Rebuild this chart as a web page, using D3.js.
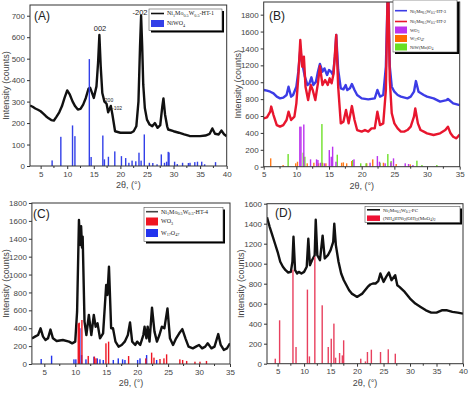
<!DOCTYPE html>
<html>
<head>
<meta charset="utf-8">
<script src="https://cdn.jsdelivr.net/npm/d3@7"></script>
<style>
  body { margin: 0; background: #fff; }
  svg { display: block; }
</style>
</head>
<body>
<svg id="chart" width="474" height="395"></svg>
<script>
// ---- data (2theta, counts) ----
// panel A
const ht1 = [[3,282],[3.5,276],[4,268],[4.5,262],[5,255],[5.5,244],[6,232],[6.5,222],[7,214],[7.5,212],[8,230],[8.5,250],[9,278],[9.5,317],[10,352],[10.5,332],[11,301],[11.5,278],[12,263],[12.5,266],[13,286],[13.5,317],[14,360],[14.3,365],[14.6,345],[15,317],[15.5,371],[15.8,480],[16.05,610],[16.3,464],[16.6,340],[17,300],[17.4,290],[17.7,250],[18.2,280],[18.5,240],[19,162],[20,155],[21,155],[22,155],[22.5,162],[23,185],[23.4,300],[23.7,560],[23.9,700],[24.1,560],[24.3,380],[24.6,270],[25,216],[25.5,193],[26,185],[26.5,200],[27,178],[27.5,190],[27.9,280],[28.1,315],[28.4,240],[28.8,185],[29,170],[30,162],[31,155],[32,147],[33,140],[34,139],[35,139],[36,142],[36.8,150],[37.3,175],[37.8,150],[38.5,147],[39,165],[39.5,148],[40,139]];
const niwo4Theta = [7.16,8.8,11.0,11.45,14.16,14.5,16.7,17.0,17.75,18.95,20.2,21.0,21.6,22.2,22.9,23.5,23.9,24.5,25.45,26.1,26.9,27.7,28.3,28.7,29.0,29.15,30.2,30.7,31.7,32.8,33.1,34.0,34.5,35.3,35.85,37.9];
const niwo4Counts = [26,136,189,139,498,42,142,31,43,68,46,37,15,25,22,62,25,147,15,14,8,54,15,20,66,63,20,9,15,14,15,18,20,20,8,18];

// panel B
const ht3 = [[5,908],[5.5,900],[6,888],[6.5,868],[7,829],[7.5,809],[8,817],[8.5,849],[8.8,947],[9.2,829],[9.5,849],[10,947],[10.3,1125],[10.6,1382],[11,1184],[11.3,1066],[11.7,967],[12,987],[12.3,1058],[12.6,967],[13,1007],[13.3,1125],[13.6,1216],[14,1125],[14.3,1164],[14.7,1086],[15,1145],[15.3,1125],[15.6,1086],[15.9,1300],[16.1,1559],[16.4,1145],[16.8,928],[17.2,916],[17.55,967],[17.8,908],[18.2,928],[18.5,979],[18.9,908],[19.3,849],[20,809],[21,797],[22,809],[22.4,908],[22.8,829],[23.3,849],[23.7,1184],[23.95,1960],[24.1,1960],[24.3,1184],[24.6,947],[25,888],[25.5,849],[26,829],[27,809],[27.5,829],[28,888],[28.3,1014],[28.7,888],[29.5,849],[30,829],[31,809],[32,770],[33,789],[33.2,801],[34,750],[35,730]];
const ht2 = [[5,572],[5.5,584],[6,651],[6.15,712],[6.5,612],[7,493],[7.5,474],[8,493],[8.5,553],[8.8,651],[9.2,553],[9.7,592],[10,750],[10.3,1066],[10.6,1500],[10.9,1184],[11.15,1303],[11.4,947],[11.8,789],[12.2,967],[12.5,908],[12.9,789],[13.3,987],[13.6,1192],[14,967],[14.4,1026],[14.8,967],[15.1,1046],[15.4,987],[15.7,1105],[16.1,1559],[16.4,947],[16.8,513],[17.2,533],[17.6,671],[18,513],[18.5,718],[18.9,553],[19.3,434],[20,415],[20.5,434],[21,415],[21.5,454],[22,454],[22.4,651],[22.8,493],[23.3,513],[23.7,908],[23.95,1960],[24.1,1960],[24.3,1026],[24.6,632],[25,513],[25.5,454],[26,415],[26.5,415],[27,434],[27.5,474],[28,592],[28.2,691],[28.6,513],[29,434],[29.5,415],[30,395],[31,375],[32,395],[32.8,434],[33.2,474],[33.6,395],[34,355],[34.5,336],[35,380]];
const wo3bTheta = [10.53,10.7,11.14,12.17,13.09,13.3,13.7,14.3,15.04,15.34,15.55,16.06,18.82,21.28,22.4,22.72,23.59,24.46,24.87,26.66,27.17,27.84];
const wo3bCounts = [474,474,500,87,87,79,47,40,197,118,237,59,87,47,126,59,40,51,99,40,32,20];
const w17bTheta = [6.07,7.97,9.9,10.17,11.66,12.68,13.4,14.01,14.52,16.93,17.19,17.7,18.47,20.77,21.69,23.33,25.28,27.43];
const w17bCounts = [99,20,40,59,40,47,40,47,40,47,51,40,67,40,87,47,32,28];
const niwmoTheta = [8.74,11.04,11.3,13.91,16.26,18.62,19.85,20.67,22.82,24.0,24.5,28.45,29.22,31.5];
const niwmoCounts = [150,166,118,505,142,79,40,40,47,150,67,71,20,20];

// panel C
const ht4 = [[3,287],[3.5,306],[4,324],[4.4,399],[4.8,306],[5.2,268],[5.6,287],[6,385],[6.4,287],[7,257],[8,268],[9,250],[9.5,231],[10,250],[10.3,585],[10.6,1610],[10.8,1330],[10.95,1540],[11.1,1300],[11.2,1424],[11.5,473],[11.8,324],[12.2,548],[12.6,324],[13,548],[13.3,417],[13.6,455],[14,287],[14.5,343],[15,883],[15.2,772],[15.45,1088],[15.8,399],[16.1,399],[16.5,250],[17,194],[17.5,213],[18,250],[18.5,324],[18.85,465],[19.2,250],[19.7,213],[20,250],[20.5,213],[21,324],[21.2,417],[21.5,287],[21.7,417],[22,250],[22.4,630],[22.8,362],[23.2,250],[23.6,324],[24,417],[24.4,399],[24.9,622],[25.3,287],[25.8,213],[26.3,287],[26.8,343],[27.3,390],[27.8,287],[28.3,194],[29,175],[29.5,194],[30,213],[30.5,175],[31,194],[31.4,231],[32,175],[32.5,194],[33.1,335],[33.5,213],[34,157],[34.5,175],[35,231]];
const wo3cTheta = [10.49,10.65,11.08,12.1,13.1,13.35,14.96,15.39,18.62,21.4,22.34,22.72,23.69,24.33,24.76,26.9,27.35,28.0,29.34,30.15,31.2];
const wo3cCounts = [455,462,492,90,82,63,231,250,89,63,127,71,56,63,108,52,45,34,26,26,34];
const w17cTheta = [4.5,6.18,9.79,10.1,10.75,11.03,11.73,13.02,13.56,13.99,14.53,16.15,16.95,17.65,18.03,20.08,20.46,21.53,23.15];
const w17cCounts = [56,93,52,52,400,100,52,82,63,52,45,45,63,52,45,45,63,100,45];

// panel D
const pc = [[3,1465],[3.5,1369],[4,1286],[4.5,1202],[5,1119],[5.5,1019],[6,969],[6.5,935],[7,912],[7.5,918],[7.8,1019],[8.0,1270],[8.3,935],[8.7,902],[9,918],[9.5,902],[10,918],[10.5,969],[10.8,1250],[11.1,985],[11.5,1035],[12,1085],[12.2,1440],[12.5,1085],[13,1035],[13.5,1280],[13.9,1052],[14.5,1085],[15,1136],[15.5,1219],[15.7,1400],[16,1186],[16.5,1019],[17,902],[17.5,835],[18,785],[18.5,735],[19,701],[19.5,685],[20,668],[20.5,685],[21,701],[21.5,735],[22,768],[22.5,792],[23,802],[23.5,802],[24,825],[24.4,902],[25,818],[25.5,868],[26,912],[26.5,835],[27.2,885],[27.6,785],[28,768],[29,718],[30,651],[31,601],[32,568],[33,534],[34,511],[35,511],[36,534],[37,534],[38,518],[39,511],[40,501]];
const nhniTheta = [4.56,5.38,7.9,8.48,10.63,11.01,12.03,13.42,14.56,15.13,15.63,15.95,16.7,17.22,17.47,20.7,21.58,21.96,22.7,24.43,25.89,27.22];
const nhniCounts = [50,434,940,167,741,73,1069,584,167,250,401,60,107,83,234,50,23,117,140,117,144,100];

// ---- drawing ----
const svg = d3.select('#chart');
const fontSans = 'Liberation Sans, Arial, sans-serif';
const fontSerif = 'Liberation Serif, Times New Roman, serif';

// "Ni_{1}Mo_{0.5}" -> text with subscripts
function richText(sel, str, size) {
  const parts = str.split(/(_\{[^}]*\})/).filter(p => p);
  let down = false;
  parts.forEach(p => {
    const sub = p.startsWith('_{');
    const t = sel.append('tspan').attr('font-size', sub ? size * 0.7 : size);
    if (sub && !down) { t.attr('dy', size * 0.25); down = true; }
    else if (!sub && down) { t.attr('dy', -size * 0.25); down = false; }
    t.text(sub ? p.slice(2, -1) : p);
  });
}

function drawPanel(p) {
  const g = svg.append('g');
  const x = d3.scaleLinear().domain(p.xDomain).range([p.left, p.right]);
  const y = d3.scaleLinear().domain(p.yDomain).range([p.bottom, p.top]);

  const clipId = 'clip' + p.label;
  svg.append('clipPath').attr('id', clipId)
    .append('rect').attr('x', p.left).attr('y', p.top)
    .attr('width', p.right - p.left).attr('height', p.bottom - p.top);

  const plot = g.append('g').attr('clip-path', `url(#${clipId})`);
  const line = d3.line().x(d => x(d[0])).y(d => y(d[1]));

  p.curves.forEach(c => {
    plot.append('path').datum(c.data)
      .attr('fill', 'none').attr('stroke', c.color)
      .attr('stroke-width', 2.4).attr('stroke-linejoin', 'round')
      .attr('d', line);
  });

  p.bars.forEach(b => {
    plot.append('g').selectAll('rect')
      .data(b.theta)
      .enter().append('rect')
      .attr('x', d => x(d) - 0.7)
      .attr('width', 1.4)
      .attr('y', (d, i) => y(b.counts[i]))
      .attr('height', (d, i) => y(0) - y(b.counts[i]))
      .attr('fill', b.color);
  });

  // frame
  g.append('rect').attr('x', p.left).attr('y', p.top)
    .attr('width', p.right - p.left).attr('height', p.bottom - p.top)
    .attr('fill', 'none').attr('stroke', '#333').attr('stroke-width', 1);

  // axes
  const xAxis = d3.axisBottom(x).tickValues(p.xTicks).tickSize(3).tickPadding(2).tickFormat(d3.format('d'));
  const xa = g.append('g').attr('transform', `translate(0,${p.bottom})`).call(xAxis);
  const yAxis = d3.axisLeft(y).tickValues(p.yTicks).tickSize(3).tickPadding(2).tickFormat(d3.format('d'));
  const ya = g.append('g').attr('transform', `translate(${p.left},0)`).call(yAxis);
  [xa, ya].forEach(a => {
    a.select('.domain').remove();
    a.selectAll('line').attr('stroke', '#333');
    a.selectAll('text').attr('font-family', fontSans).attr('font-size', 8).attr('fill', '#444');
  });
  // minor ticks on x
  const minor = d3.range(p.xTicks[0] - 2.5, p.xDomain[1], 5).filter(v => v > p.xDomain[0] && v < p.xDomain[1]);
  g.append('g').selectAll('line').data(minor).enter().append('line')
    .attr('x1', d => x(d)).attr('x2', d => x(d))
    .attr('y1', p.bottom).attr('y2', p.bottom + 2).attr('stroke', '#333');

  // titles
  g.append('text').attr('x', (p.left + p.right) / 2).attr('y', p.bottom + 22)
    .attr('text-anchor', 'middle').attr('font-family', fontSans).attr('font-size', 9).attr('fill', '#444')
    .text('2\u03b8, (\u00b0)');
  g.append('text')
    .attr('transform', `translate(${p.yTitleX},${(p.top + p.bottom) / 2}) rotate(-90)`)
    .attr('text-anchor', 'middle').attr('font-family', fontSans).attr('font-size', 9).attr('fill', '#444')
    .text('Intensity (counts)');
  g.append('text').attr('x', p.labelPos[0]).attr('y', p.labelPos[1])
    .attr('font-family', fontSans).attr('font-size', 12).attr('fill', '#222')
    .text('(' + p.label + ')');

  // legend
  const L = p.legend;
  g.append('rect').attr('x', L.x + 2).attr('y', L.y + 2).attr('width', L.w).attr('height', L.h).attr('fill', '#000');
  g.append('rect').attr('x', L.x).attr('y', L.y).attr('width', L.w).attr('height', L.h)
    .attr('fill', '#fff').attr('stroke', '#555').attr('stroke-width', 0.6);
  L.items.forEach(it => {
    if (it.type === 'line') {
      g.append('line').attr('x1', L.x + 2).attr('x2', L.x + L.sw).attr('y1', it.y).attr('y2', it.y)
        .attr('stroke', it.color).attr('stroke-width', 1.6);
    } else {
      g.append('rect').attr('x', L.x + 2).attr('y', it.y - L.rh / 2).attr('width', L.sw - 2).attr('height', L.rh)
        .attr('fill', it.color);
    }
    const t = g.append('text').attr('x', L.x + L.sw + 3).attr('y', it.y + 1.8)
      .attr('font-family', fontSerif).attr('fill', '#222');
    richText(t, it.text, L.fs);
  });

  (p.notes || []).forEach(n => {
    g.append('text').attr('x', n[0]).attr('y', n[1]).attr('text-anchor', 'middle')
      .attr('font-family', fontSans).attr('font-size', n[3]).attr('fill', '#222').text(n[2]);
  });
}

const nmw = 'Ni_{1}Mo_{0.5}W_{0.5}';

drawPanel({
  label: 'A', left: 30, right: 226.7, top: 5, bottom: 166,
  xDomain: [3, 40], yDomain: [0, 750],
  xTicks: [5, 10, 15, 20, 25, 30, 35, 40], yTicks: d3.range(0, 701, 100),
  yTitleX: 9, labelPos: [34, 20],
  curves: [{ data: ht1, color: '#111' }],
  bars: [{ theta: niwo4Theta, counts: niwo4Counts, color: '#3340e8' }],
  legend: { x: 149, y: 9, w: 73, h: 21.5, sw: 15, rh: 7, fs: 6, items: [
    { type: 'line', y: 13.5, color: '#111', text: nmw + '-HT-1' },
    { type: 'rect', y: 23.5, color: '#3340e8', text: 'NiWO_{4}' }] },
  notes: [[100, 31, '002', 7.5], [140, 15, '-202', 7.5], [109, 102, '200', 5], [117, 110, '-102', 5]]
});

drawPanel({
  label: 'B', left: 263.7, right: 459.7, top: 2, bottom: 166.7,
  xDomain: [5, 35], yDomain: [0, 1950],
  xTicks: [5, 10, 15, 20, 25, 30, 35], yTicks: d3.range(0, 1801, 200),
  yTitleX: 241, labelPos: [269, 20],
  curves: [{ data: ht3, color: '#3c3ce6' }, { data: ht2, color: '#e8162e' }],
  bars: [
    { theta: w17bTheta, counts: w17bCounts, color: '#ff7a1a' },
    { theta: niwmoTheta, counts: niwmoCounts, color: '#6fe02a' },
    { theta: wo3bTheta, counts: wo3bCounts, color: '#bb33ee' }],
  legend: { x: 393, y: 0, w: 64, h: 52, sw: 14, rh: 7, fs: 4.6, items: [
    { type: 'line', y: 10.7, color: '#3c3ce6', text: 'Ni_{1}Mo_{0.5}W_{0.5}-HT-3' },
    { type: 'line', y: 21.5, color: '#e8162e', text: 'Ni_{1}Mo_{0.5}W_{0.5}-HT-2' },
    { type: 'rect', y: 30, color: '#bb33ee', text: 'WO_{3}' },
    { type: 'rect', y: 38.5, color: '#ff6a00', text: 'W_{17}O_{47}' },
    { type: 'rect', y: 47, color: '#66e022', text: 'NiW(Mo)O_{4}' }] }
});

drawPanel({
  label: 'C', left: 31.9, right: 230, top: 203, bottom: 364,
  xDomain: [3, 35], yDomain: [0, 1800],
  xTicks: [5, 10, 15, 20, 25, 30, 35], yTicks: d3.range(0, 1801, 200),
  yTitleX: 9, labelPos: [33, 218],
  curves: [{ data: ht4, color: '#111' }],
  bars: [
    { theta: w17cTheta, counts: w17cCounts, color: '#2233ee' },
    { theta: wo3cTheta, counts: wo3cCounts, color: '#ee1522' }],
  legend: { x: 144, y: 207.5, w: 79, h: 34, sw: 14, rh: 8, fs: 6, items: [
    { type: 'line', y: 211.7, color: '#444', text: nmw + '-HT-4' },
    { type: 'rect', y: 221.5, color: '#ee1522', text: 'WO_{3}' },
    { type: 'rect', y: 233, color: '#2233ee', text: 'W_{17}O_{47}' }] }
});

drawPanel({
  label: 'D', left: 267, right: 463, top: 203.7, bottom: 363.7,
  xDomain: [3, 40], yDomain: [0, 1600],
  xTicks: [5, 10, 15, 20, 25, 30, 35, 40], yTicks: d3.range(0, 1601, 200),
  yTitleX: 244, labelPos: [275, 217],
  curves: [{ data: pc, color: '#111' }],
  bars: [{ theta: nhniTheta, counts: nhniCounts, color: '#e8405e' }],
  legend: { x: 365, y: 206.5, w: 95, h: 16, sw: 15, rh: 5.5, fs: 5, items: [
    { type: 'line', y: 209.8, color: '#111', text: nmw + '-PC' },
    { type: 'rect', y: 218.2, color: '#ee1133', text: '(NH_{4})HNi_{2}(OH)_{2}(MoO_{4})_{2}' }] }
});
</script>
</body>
</html>
